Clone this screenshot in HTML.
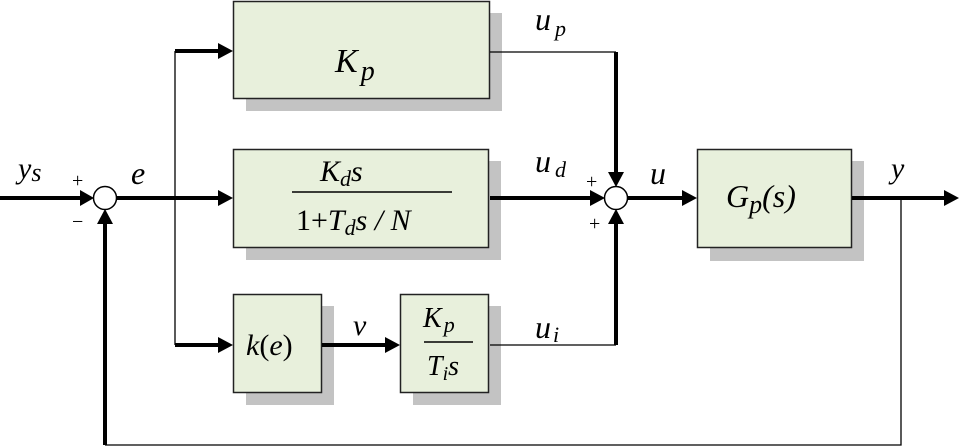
<!DOCTYPE html>
<html><head><meta charset="utf-8"><style>
html,body{margin:0;padding:0;background:#fff;}
svg{display:block;}
text{font-family:"Liberation Serif",serif;font-style:italic;fill:#000;}
.n{font-style:normal;}
</style></head><body>
<svg width="960" height="447" viewBox="0 0 960 447" xmlns="http://www.w3.org/2000/svg">
<defs><marker id="a" markerWidth="10" markerHeight="10" refX="9" refY="5" orient="auto" markerUnits="userSpaceOnUse"><path d="M0,0 L0,0"/></marker></defs>
<!-- shadows -->
<g fill="#c3c3c3">
<rect x="246" y="13" width="256" height="98"/>
<rect x="246" y="161" width="255" height="99"/>
<rect x="246" y="306" width="88" height="99"/>
<rect x="413" y="306" width="88" height="99"/>
<rect x="710" y="161" width="154" height="100"/>
</g>
<g fill="#e8f0dc" stroke="#222" stroke-width="1.5">
<rect x="233.5" y="1.5" width="256" height="97"/>
<rect x="233.5" y="149.5" width="255" height="98"/>
<rect x="233.5" y="294.5" width="88" height="98"/>
<rect x="400.5" y="294.5" width="88" height="98"/>
<rect x="697.5" y="149.5" width="154" height="98"/>
</g>
<!-- thin lines -->
<g stroke="#000" stroke-width="1.3" fill="none">
<path d="M175,51 V345"/>
<path d="M490,52 H616"/>
<path d="M490,345 H616"/>
<path d="M901,198 V445 H105"/>
</g>
<!-- thick lines -->
<g stroke="#000" stroke-width="4" fill="none">
<path d="M0,198 H82"/>
<path d="M117,198 H218"/>
<path d="M175,51 H218"/>
<path d="M175,345 H218"/>
<path d="M322,345 H385"/>
<path d="M490,198 H592"/>
<path d="M628,198 H682"/>
<path d="M852,198 H944"/>
<path d="M616,52 V174"/>
<path d="M616,345 V222"/>
<path d="M105,445 V222"/>
</g>
<g fill="#000">
<path d="M94,198 L80,190 L80,206Z"/>
<path d="M233,198 L218,190 L218,206Z"/>
<path d="M233,51 L218,43 L218,59Z"/>
<path d="M233,345 L218,337 L218,353Z"/>
<path d="M400,345 L385,337 L385,353Z"/>
<path d="M605,198 L590,190 L590,206Z"/>
<path d="M697,198 L682,190 L682,206Z"/>
<path d="M959,198 L944,190 L944,206Z"/>
<path d="M616,187 L608,172 L624,172Z"/>
<path d="M616,209 L608,224 L624,224Z"/>
<path d="M105,209 L97,224 L113,224Z"/>
</g>
<circle cx="105" cy="198" r="11.5" fill="#fff" stroke="#000" stroke-width="1.5"/>
<circle cx="616" cy="198" r="11.5" fill="#fff" stroke="#000" stroke-width="1.5"/>
<!-- signs -->
<text class="n" x="72" y="187" font-size="20">+</text>
<text class="n" x="72" y="228" font-size="20">−</text>
<text class="n" x="586" y="188" font-size="20">+</text>
<text class="n" x="589" y="230" font-size="20">+</text>
<!-- labels -->
<text x="18" y="178" font-size="30">y<tspan font-size="26" dy="3">s</tspan></text>
<text x="131" y="184" font-size="32">e</text>
<text x="335" y="72" font-size="34">K<tspan font-size="28" dx="3" dy="8">p</tspan></text>
<text x="535" y="30" font-size="32">u<tspan font-size="22" dx="4" dy="6">p</tspan></text>
<text x="535" y="172" font-size="32">u<tspan font-size="22" dx="4" dy="5">d</tspan></text>
<text x="535" y="338" font-size="32">u<tspan font-size="22" dx="2" dy="4">i</tspan></text>
<text x="650" y="184" font-size="32">u</text>
<text x="353" y="335" font-size="30">v</text>
<text x="891" y="178" font-size="30">y</text>
<text x="726" y="207" font-size="32">G<tspan font-size="26" dy="6">p</tspan><tspan dy="-6">(s)</tspan></text>
<text x="246" y="355" font-size="30">k<tspan class="n">(</tspan>e<tspan class="n">)</tspan></text>
<text x="320" y="181" font-size="30">K<tspan font-size="22" dy="5">d</tspan><tspan dy="-5">s</tspan></text>
<path d="M292,192 H452" stroke="#000" stroke-width="1.5"/>
<text x="296" y="230" font-size="30"><tspan class="n">1+</tspan>T<tspan font-size="22" dy="5">d</tspan><tspan dy="-5">s / N</tspan></text>
<text x="423" y="327" font-size="28">K<tspan font-size="22" dx="2" dy="5">p</tspan></text>
<path d="M424,342 H473" stroke="#000" stroke-width="1.5"/>
<text x="427" y="375" font-size="28">T<tspan font-size="20" dy="5">i</tspan><tspan dy="-5">s</tspan></text>
</svg>
</body></html>
